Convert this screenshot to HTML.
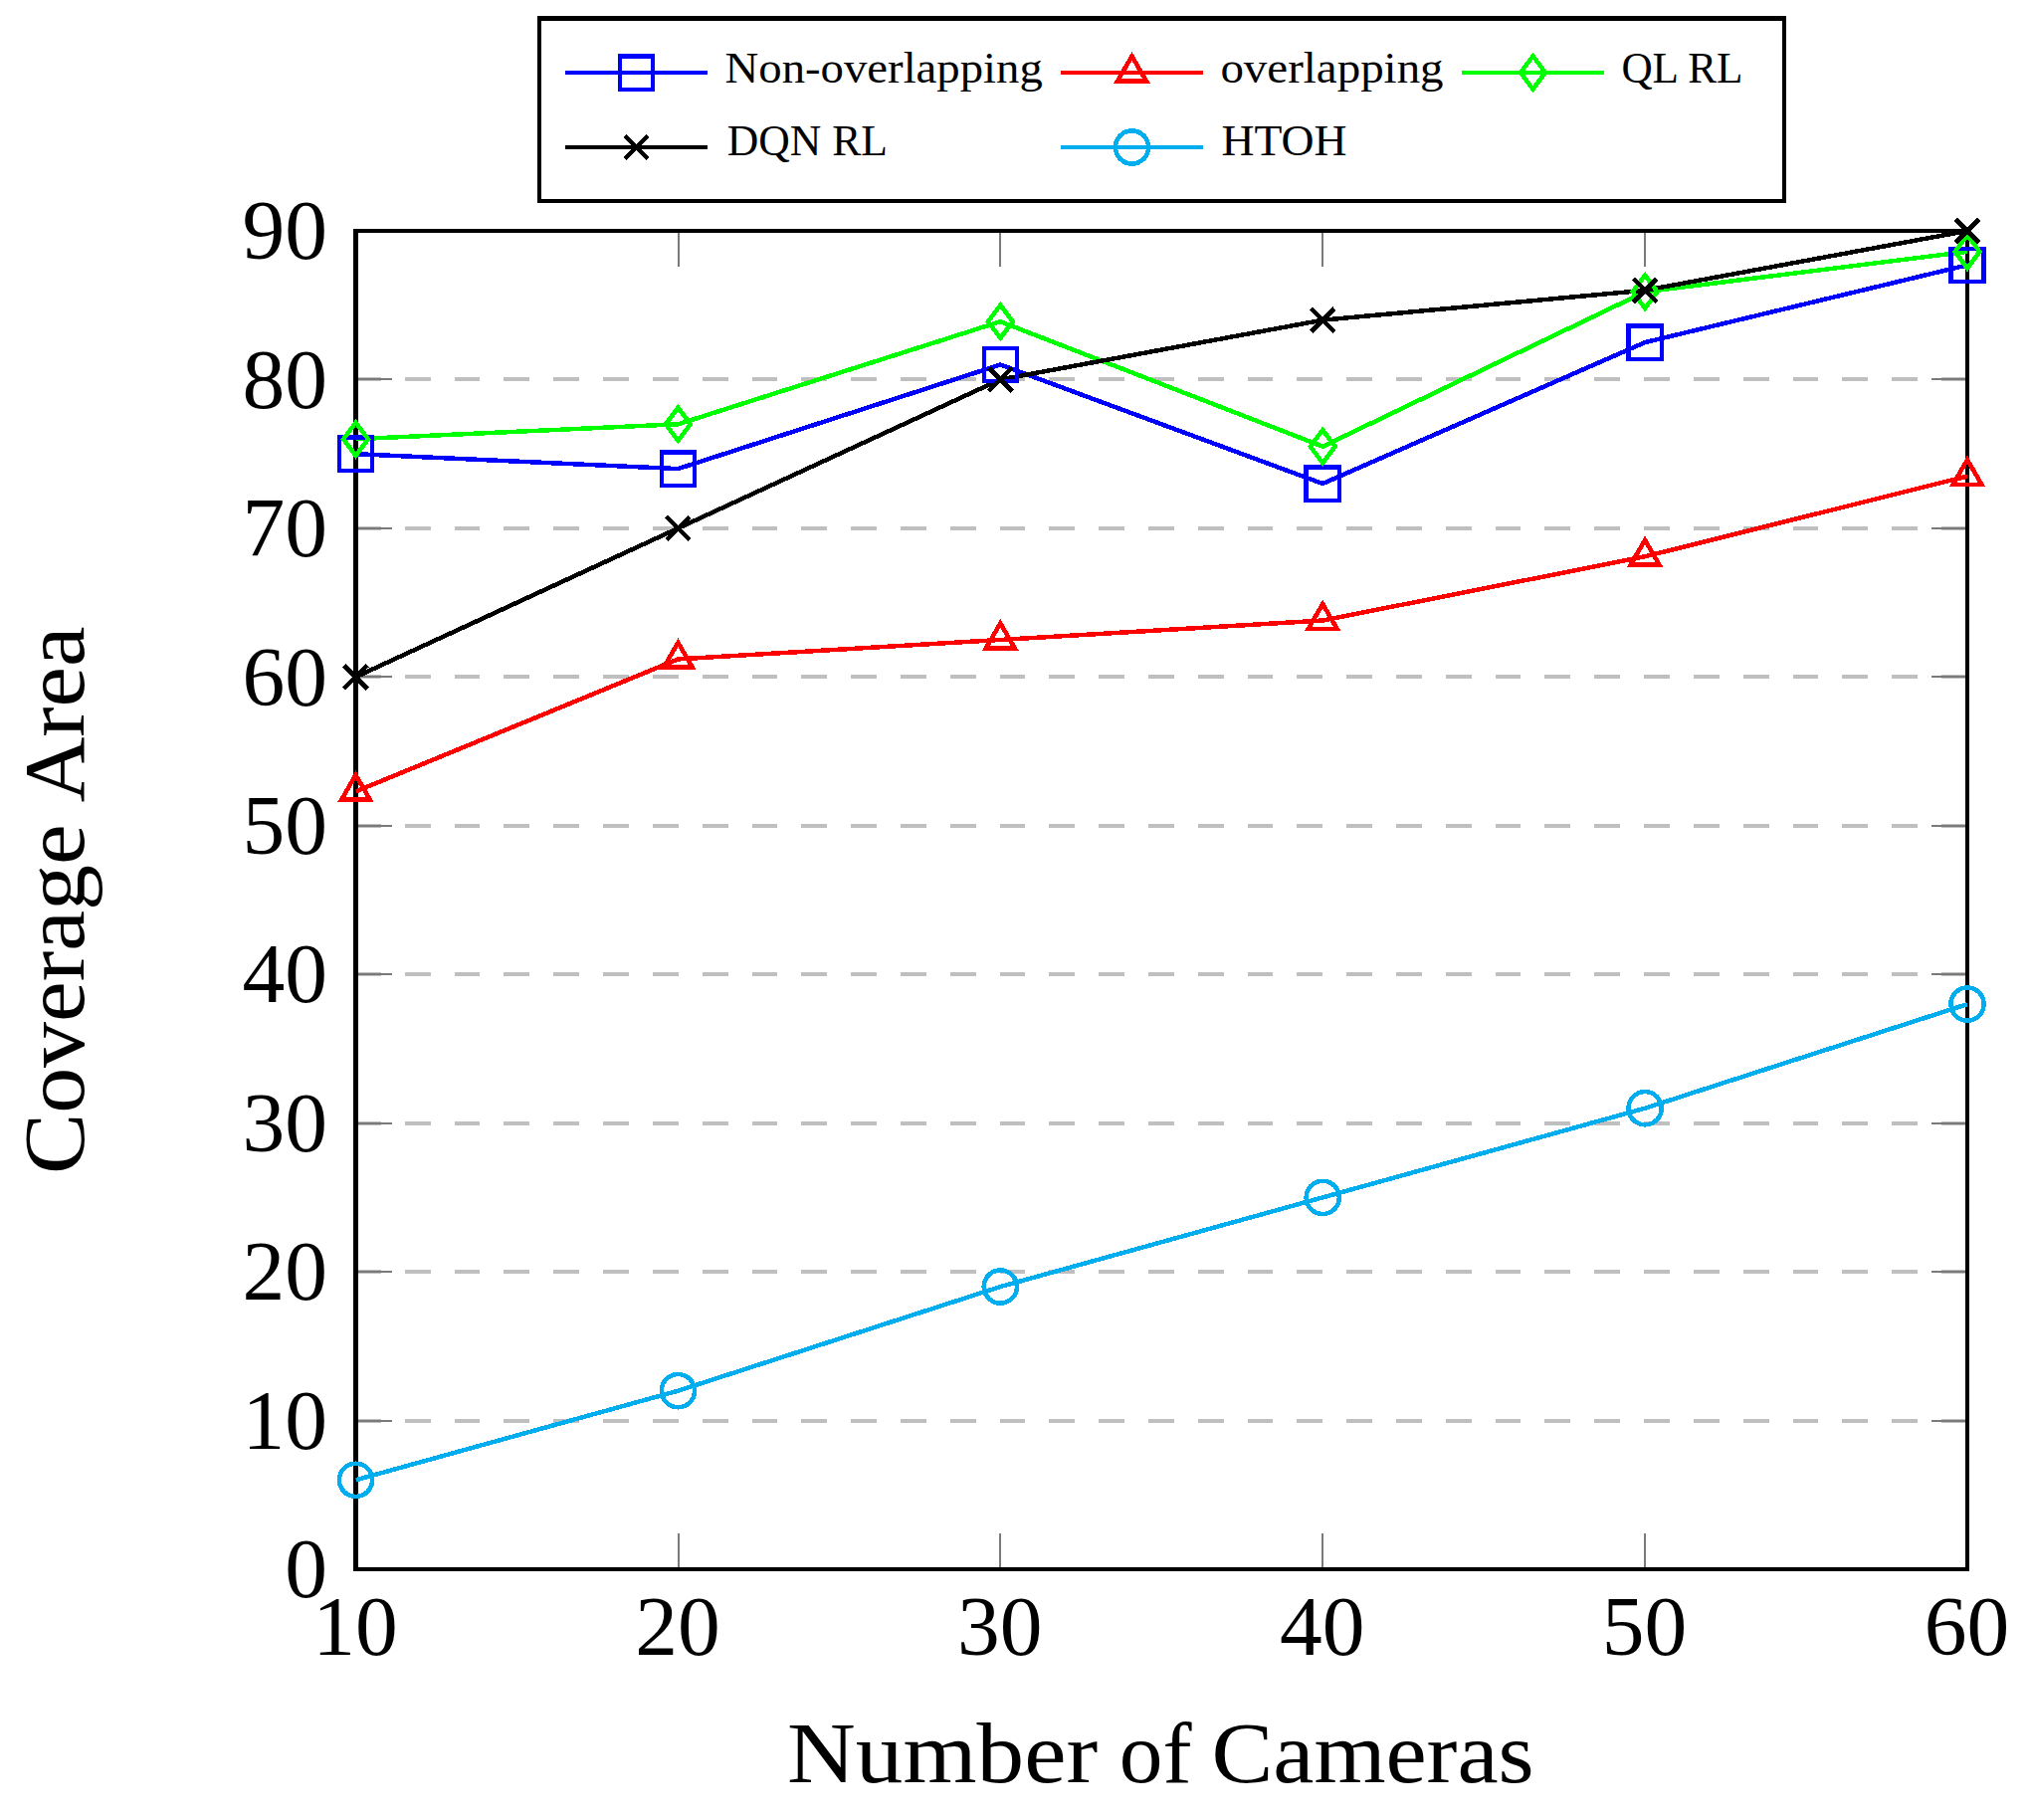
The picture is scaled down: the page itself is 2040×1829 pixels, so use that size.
<!DOCTYPE html>
<html lang="en">
<head>
<meta charset="utf-8">
<title>Coverage Area vs Number of Cameras</title>
<style>
html,body{margin:0;padding:0;background:#fff;}
body{width:2040px;height:1829px;overflow:hidden;}
svg{display:block;}
text{font-family:"Liberation Serif","DejaVu Serif",serif;fill:#000;}
.t{font-size:85.5px;}
.l{font-size:45px;}
.a{font-size:87px;}
</style>
</head>
<body>
<svg width="2040" height="1829" viewBox="0 0 2040 1829" shape-rendering="crispEdges">
<rect x="0" y="0" width="2040" height="1829" fill="#fff"/>
<defs><clipPath id="plotclip"><rect x="357.5" y="229" width="1619.5" height="1351"/></clipPath></defs>
<g stroke="#bfbfbf" stroke-width="4" stroke-dasharray="25.8 24.01" stroke-dashoffset="0.45" fill="none">
<path d="M357.5 1427.56H1977"/>
<path d="M357.5 1278.11H1977"/>
<path d="M357.5 1128.67H1977"/>
<path d="M357.5 979.22H1977"/>
<path d="M357.5 829.78H1977"/>
<path d="M357.5 680.33H1977"/>
<path d="M357.5 530.89H1977"/>
<path d="M357.5 381.44H1977"/>
</g>
<g stroke="#7a7a7a" stroke-width="2" fill="none">
<path d="M682 1577V1540.8"/>
<path d="M682 232V268.2"/>
<path d="M1005.3 1577V1540.8"/>
<path d="M1005.3 232V268.2"/>
<path d="M1329.2 1577V1540.8"/>
<path d="M1329.2 232V268.2"/>
<path d="M1653.1 1577V1540.8"/>
<path d="M1653.1 232V268.2"/>
<path d="M357.5 1427.56H393.7"/>
<path d="M1977 1427.56H1940.8"/>
<path d="M357.5 1278.11H393.7"/>
<path d="M1977 1278.11H1940.8"/>
<path d="M357.5 1128.67H393.7"/>
<path d="M1977 1128.67H1940.8"/>
<path d="M357.5 979.22H393.7"/>
<path d="M1977 979.22H1940.8"/>
<path d="M357.5 829.78H393.7"/>
<path d="M1977 829.78H1940.8"/>
<path d="M357.5 680.33H393.7"/>
<path d="M1977 680.33H1940.8"/>
<path d="M357.5 530.89H393.7"/>
<path d="M1977 530.89H1940.8"/>
<path d="M357.5 381.44H393.7"/>
<path d="M1977 381.44H1940.8"/>
</g>
<g fill="#000"><rect x="355" y="230" width="5" height="1349"/><rect x="1975" y="230" width="4" height="1349"/><rect x="355" y="230" width="1624" height="4"/><rect x="355" y="1575" width="1624" height="4"/></g>
<g clip-path="url(#plotclip)" fill="none" stroke-width="4.5" stroke-linejoin="round" stroke-linecap="butt">
<polyline points="357.5,456.17 681.4,471.11 1005.3,366.5 1329.2,486.06 1653.1,344.08 1977,266.37" stroke="#0000ff"/>
<polyline points="357.5,795.41 681.4,662.4 1005.3,642.97 1329.2,623.54 1653.1,559.28 1977,478.58" stroke="#ff0000"/>
<polyline points="357.5,441.22 681.4,426.28 1005.3,323.16 1329.2,448.69 1653.1,293.27 1977,252.92" stroke="#00ff00"/>
<polyline points="357.5,680.33 681.4,530.89 1005.3,381.44 1329.2,321.67 1653.1,291.78 1977,232" stroke="#000000"/>
<polyline points="357.5,1487.33 681.4,1397.67 1005.3,1293.06 1329.2,1203.39 1653.1,1113.72 1977,1009.11" stroke="#00aeef"/>
</g>
<g>
<rect x="340.9" y="439.57" width="33.2" height="33.2" fill="none" stroke="#0000ff" stroke-width="4.2" stroke-linejoin="miter"/>
<rect x="664.8" y="454.51" width="33.2" height="33.2" fill="none" stroke="#0000ff" stroke-width="4.2" stroke-linejoin="miter"/>
<rect x="988.7" y="349.9" width="33.2" height="33.2" fill="none" stroke="#0000ff" stroke-width="4.2" stroke-linejoin="miter"/>
<rect x="1312.6" y="469.46" width="33.2" height="33.2" fill="none" stroke="#0000ff" stroke-width="4.2" stroke-linejoin="miter"/>
<rect x="1636.5" y="327.48" width="33.2" height="33.2" fill="none" stroke="#0000ff" stroke-width="4.2" stroke-linejoin="miter"/>
<rect x="1960.4" y="249.77" width="33.2" height="33.2" fill="none" stroke="#0000ff" stroke-width="4.2" stroke-linejoin="miter"/>
<path d="M357.5 778.81L343.12 803.71L371.88 803.71Z" fill="none" stroke="#ff0000" stroke-width="4.5" stroke-linejoin="miter"/>
<path d="M681.4 645.8L667.02 670.7L695.78 670.7Z" fill="none" stroke="#ff0000" stroke-width="4.5" stroke-linejoin="miter"/>
<path d="M1005.3 626.37L990.92 651.27L1019.68 651.27Z" fill="none" stroke="#ff0000" stroke-width="4.5" stroke-linejoin="miter"/>
<path d="M1329.2 606.94L1314.82 631.84L1343.58 631.84Z" fill="none" stroke="#ff0000" stroke-width="4.5" stroke-linejoin="miter"/>
<path d="M1653.1 542.68L1638.72 567.58L1667.48 567.58Z" fill="none" stroke="#ff0000" stroke-width="4.5" stroke-linejoin="miter"/>
<path d="M1977 461.98L1962.62 486.88L1991.38 486.88Z" fill="none" stroke="#ff0000" stroke-width="4.5" stroke-linejoin="miter"/>
<path d="M357.5 424.62L369.95 441.22L357.5 457.82L345.05 441.22Z" fill="none" stroke="#00ff00" stroke-width="4.5" stroke-linejoin="miter"/>
<path d="M681.4 409.68L693.85 426.28L681.4 442.88L668.95 426.28Z" fill="none" stroke="#00ff00" stroke-width="4.5" stroke-linejoin="miter"/>
<path d="M1005.3 306.56L1017.75 323.16L1005.3 339.76L992.85 323.16Z" fill="none" stroke="#00ff00" stroke-width="4.5" stroke-linejoin="miter"/>
<path d="M1329.2 432.09L1341.65 448.69L1329.2 465.29L1316.75 448.69Z" fill="none" stroke="#00ff00" stroke-width="4.5" stroke-linejoin="miter"/>
<path d="M1653.1 276.67L1665.55 293.27L1653.1 309.87L1640.65 293.27Z" fill="none" stroke="#00ff00" stroke-width="4.5" stroke-linejoin="miter"/>
<path d="M1977 236.32L1989.45 252.92L1977 269.52L1964.55 252.92Z" fill="none" stroke="#00ff00" stroke-width="4.5" stroke-linejoin="miter"/>
<path d="M345.76 668.6L369.24 692.07M345.76 692.07L369.24 668.6" fill="none" stroke="#000000" stroke-width="4.5" stroke-linejoin="miter"/>
<path d="M669.66 519.15L693.14 542.63M669.66 542.63L693.14 519.15" fill="none" stroke="#000000" stroke-width="4.5" stroke-linejoin="miter"/>
<path d="M993.56 369.71L1017.04 393.18M993.56 393.18L1017.04 369.71" fill="none" stroke="#000000" stroke-width="4.5" stroke-linejoin="miter"/>
<path d="M1317.46 309.93L1340.94 333.4M1317.46 333.4L1340.94 309.93" fill="none" stroke="#000000" stroke-width="4.5" stroke-linejoin="miter"/>
<path d="M1641.36 280.04L1664.84 303.52M1641.36 303.52L1664.84 280.04" fill="none" stroke="#000000" stroke-width="4.5" stroke-linejoin="miter"/>
<path d="M1965.26 220.26L1988.74 243.74M1965.26 243.74L1988.74 220.26" fill="none" stroke="#000000" stroke-width="4.5" stroke-linejoin="miter"/>
<circle cx="357.5" cy="1487.33" r="16.6" fill="none" stroke="#00aeef" stroke-width="4.5" stroke-linejoin="miter"/>
<circle cx="681.4" cy="1397.67" r="16.6" fill="none" stroke="#00aeef" stroke-width="4.5" stroke-linejoin="miter"/>
<circle cx="1005.3" cy="1293.06" r="16.6" fill="none" stroke="#00aeef" stroke-width="4.5" stroke-linejoin="miter"/>
<circle cx="1329.2" cy="1203.39" r="16.6" fill="none" stroke="#00aeef" stroke-width="4.5" stroke-linejoin="miter"/>
<circle cx="1653.1" cy="1113.72" r="16.6" fill="none" stroke="#00aeef" stroke-width="4.5" stroke-linejoin="miter"/>
<circle cx="1977" cy="1009.11" r="16.6" fill="none" stroke="#00aeef" stroke-width="4.5" stroke-linejoin="miter"/>
</g>
<g class="t" text-anchor="end">
<text x="329" y="1605.2">0</text>
<text x="329" y="1455.76">10</text>
<text x="329" y="1306.31">20</text>
<text x="329" y="1156.87">30</text>
<text x="329" y="1007.42">40</text>
<text x="329" y="857.98">50</text>
<text x="329" y="708.53">60</text>
<text x="329" y="559.09">70</text>
<text x="329" y="409.64">80</text>
<text x="329" y="260.2">90</text>
</g>
<g class="t" text-anchor="middle">
<text x="357" y="1662.6">10</text>
<text x="680.9" y="1662.6">20</text>
<text x="1004.8" y="1662.6">30</text>
<text x="1328.7" y="1662.6">40</text>
<text x="1652.6" y="1662.6">50</text>
<text x="1976.5" y="1662.6">60</text>
</g>
<text class="a" x="791.06" y="1791" textLength="312.16" lengthAdjust="spacingAndGlyphs">Number</text>
<text class="a" x="1124.74" y="1791" textLength="72.75" lengthAdjust="spacingAndGlyphs">of</text>
<text class="a" x="1217.47" y="1791" textLength="324.16" lengthAdjust="spacingAndGlyphs">Cameras</text>
<text class="a" transform="translate(84.3 1176.4) rotate(-90)" x="-3.69" y="0" textLength="351.88" lengthAdjust="spacingAndGlyphs">Coverage</text>
<text class="a" transform="translate(84.3 805.8) rotate(-90)" x="-0.79" y="0" textLength="177.13" lengthAdjust="spacingAndGlyphs">Area</text>
<g fill="#000"><rect x="540" y="16" width="4" height="188"/><rect x="1791" y="16" width="4" height="188"/><rect x="540" y="16" width="1255" height="5"/><rect x="540" y="200" width="1255" height="4"/></g>
<path d="M568 73H711" stroke="#0000ff" stroke-width="4.2" fill="none"/>
<rect x="622.9" y="56.4" width="33.2" height="33.2" fill="none" stroke="#0000ff" stroke-width="4.2" stroke-linejoin="miter"/>
<text class="l" x="728.6" y="82.7" textLength="319.2" lengthAdjust="spacingAndGlyphs">Non-overlapping</text>
<path d="M1066 73H1209" stroke="#ff0000" stroke-width="4.2" fill="none"/>
<path d="M1137.5 56.4L1123.12 81.3L1151.88 81.3Z" fill="none" stroke="#ff0000" stroke-width="4.5" stroke-linejoin="miter"/>
<text class="l" x="1226.4" y="82.7" textLength="224.2" lengthAdjust="spacingAndGlyphs">overlapping</text>
<path d="M1469 73H1612" stroke="#00ff00" stroke-width="4.2" fill="none"/>
<path d="M1540.5 56.4L1552.95 73L1540.5 89.6L1528.05 73Z" fill="none" stroke="#00ff00" stroke-width="4.5" stroke-linejoin="miter"/>
<text class="l" x="1629.4" y="82.7" textLength="122.1" lengthAdjust="spacingAndGlyphs">QL RL</text>
<path d="M568 148H711" stroke="#000000" stroke-width="4.2" fill="none"/>
<path d="M627.76 136.26L651.24 159.74M627.76 159.74L651.24 136.26" fill="none" stroke="#000000" stroke-width="4.5" stroke-linejoin="miter"/>
<text class="l" x="730.8" y="156.4" textLength="161.2" lengthAdjust="spacingAndGlyphs">DQN RL</text>
<path d="M1066 148H1209" stroke="#00aeef" stroke-width="4.2" fill="none"/>
<circle cx="1137.5" cy="148" r="16.6" fill="none" stroke="#00aeef" stroke-width="4.5" stroke-linejoin="miter"/>
<text class="l" x="1227.4" y="156.4" textLength="126.1" lengthAdjust="spacingAndGlyphs">HTOH</text>
</svg>
</body>
</html>
